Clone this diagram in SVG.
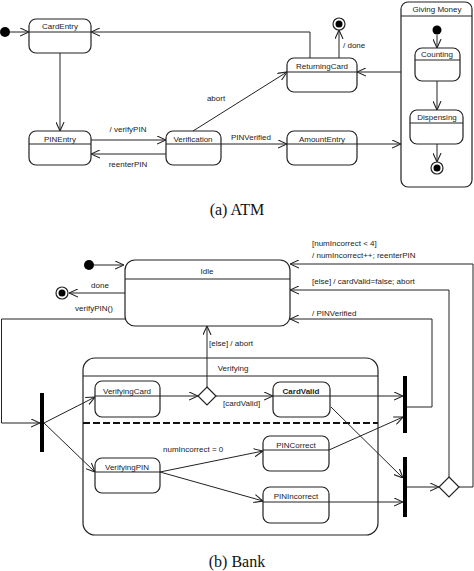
<svg xmlns="http://www.w3.org/2000/svg" width="474" height="571" viewBox="0 0 474 571">
<style>
.box{fill:#fff;stroke:#222;stroke-width:1.2}
.ln{fill:none;stroke:#222;stroke-width:1}
.t{font-family:"Liberation Sans",Arial,sans-serif;font-size:8px;fill:#222}
.c{text-anchor:middle}
.cap{font-family:"Liberation Serif","Times New Roman",serif;font-size:16px;fill:#111;text-anchor:middle}
.bar{fill:#000}
.dot{fill:#000}
.fin{fill:#fff;stroke:#222;stroke-width:1.2}
</style>
<defs>
<marker id="arr" viewBox="0 0 10 10" refX="10" refY="5" markerWidth="9" markerHeight="9" markerUnits="userSpaceOnUse" orient="auto">
<path d="M0,0.5 L10,5 L0,9.5" fill="none" stroke="#222" stroke-width="1.2"/>
</marker>
</defs>
<rect width="474" height="571" fill="#fff"/>

<!-- (a) ATM nodes -->
<g id="a_init"><circle class="dot" cx="5" cy="32" r="5"/></g>
<g id="CardEntry"><rect class="box" x="29" y="19" width="62" height="34" rx="7"/><line class="ln" x1="29" y1="32" x2="91" y2="32"/><text class="t c" x="60" y="29">CardEntry</text></g>
<g id="PINEntry"><rect class="box" x="29" y="131" width="62" height="34" rx="7"/><line class="ln" x1="29" y1="144" x2="91" y2="144"/><text class="t c" x="60" y="142">PINEntry</text></g>
<g id="Verification"><rect class="box" x="166" y="131" width="55" height="34" rx="7"/><text class="t c" x="193" y="142">Verification</text></g>
<g id="ReturningCard"><rect class="box" x="287" y="58" width="70" height="34" rx="7"/><text class="t c" x="322" y="69">ReturningCard</text></g>
<g id="AmountEntry"><rect class="box" x="287" y="131" width="70" height="34" rx="7"/><text class="t c" x="322" y="142">AmountEntry</text></g>
<g id="a_final"><circle class="fin" cx="339" cy="24" r="6"/><circle class="dot" cx="339" cy="24" r="3.5"/></g>
<g id="GivingMoney">
<rect class="box" x="401" y="2" width="71" height="185" rx="7"/>
<line class="ln" x1="401" y1="16" x2="472" y2="16"/>
<text class="t c" x="437" y="12">Giving Money</text>
<circle class="dot" cx="437" cy="30" r="4.5"/>
<g id="Counting"><rect class="box" x="415" y="48" width="45" height="33" rx="7"/><line class="ln" x1="415" y1="60" x2="460" y2="60"/><text class="t c" x="437" y="57">Counting</text></g>
<g id="Dispensing"><rect class="box" x="410" y="110" width="53" height="34" rx="7"/><line class="ln" x1="410" y1="123" x2="463" y2="123"/><text class="t c" x="437" y="120">Dispensing</text></g>
<circle class="fin" cx="437" cy="168" r="6"/><circle class="dot" cx="437" cy="168" r="3.5"/>
</g>

<!-- (a) connectors -->
<g id="a_edges">
<line class="ln" x1="10" y1="32" x2="29" y2="32" marker-end="url(#arr)"/>
<line class="ln" x1="60" y1="53" x2="60" y2="131" marker-end="url(#arr)"/>
<line class="ln" x1="91" y1="140" x2="166" y2="140" marker-end="url(#arr)"/>
<text class="t c" x="128" y="132">/ verifyPIN</text>
<line class="ln" x1="166" y1="154" x2="91" y2="154" marker-end="url(#arr)"/>
<text class="t c" x="128" y="167">reenterPIN</text>
<line class="ln" x1="193" y1="131" x2="287" y2="72" marker-end="url(#arr)"/>
<text class="t c" x="216" y="101">abort</text>
<polyline class="ln" points="310,58 310,32 91,32" marker-end="url(#arr)"/>
<line class="ln" x1="339" y1="58" x2="339" y2="30" marker-end="url(#arr)"/>
<text class="t" x="343" y="48">/ done</text>
<line class="ln" x1="221" y1="144" x2="287" y2="144" marker-end="url(#arr)"/>
<text class="t" x="231" y="140">PINVerified</text>
<line class="ln" x1="287" y1="144" x2="357" y2="144"/>
<line class="ln" x1="357" y1="144" x2="401" y2="144" marker-end="url(#arr)"/>
<line class="ln" x1="401" y1="72" x2="357" y2="72" marker-end="url(#arr)"/>
<line class="ln" x1="287" y1="72" x2="357" y2="72"/>
<line class="ln" x1="437" y1="35" x2="437" y2="48" marker-end="url(#arr)"/>
<line class="ln" x1="437" y1="81" x2="437" y2="110" marker-end="url(#arr)"/>
<line class="ln" x1="437" y1="144" x2="437" y2="162" marker-end="url(#arr)"/>
<line class="ln" x1="166" y1="144" x2="221" y2="144"/>
</g>

<text class="cap" x="237" y="215">(a) ATM</text>

<!-- (b) Bank nodes -->
<g id="b_init"><circle class="dot" cx="89" cy="265" r="5"/></g>
<g id="b_final"><circle class="fin" cx="62" cy="293" r="6"/><circle class="dot" cx="62" cy="293" r="3.5"/></g>
<g id="Idle"><rect class="box" x="125" y="260" width="165" height="66" rx="10"/><line class="ln" x1="125" y1="279" x2="290" y2="279"/><text class="t c" x="207" y="274">Idle</text></g>
<g id="Verifying">
<rect class="box" x="83" y="358" width="295" height="177" rx="12"/>
<line class="ln" x1="83" y1="376" x2="378" y2="376"/>
<text class="t c" x="233" y="371">Verifying</text>
<line x1="83" y1="423" x2="378" y2="423" stroke="#111" stroke-width="2" stroke-dasharray="7,3"/>
<g id="VerifyingCard"><rect class="box" x="95" y="381" width="65" height="36" rx="7"/><text class="t c" x="127" y="394">VerifyingCard</text></g>
<g id="CardValid"><rect class="box" x="273" y="382" width="57" height="35" rx="7"/><text class="t c" x="301" y="394" font-weight="bold">CardValid</text></g>
<g id="VerifyingPIN"><rect class="box" x="95" y="458" width="65" height="35" rx="7"/><text class="t c" x="127" y="470">VerifyingPIN</text></g>
<g id="PINCorrect"><rect class="box" x="263" y="436" width="66" height="35" rx="7"/><text class="t c" x="296" y="448">PINCorrect</text></g>
<g id="PINIncorrect"><rect class="box" x="263" y="487" width="66" height="36" rx="7"/><text class="t c" x="296" y="499">PINIncorrect</text></g>
<g id="choice1"><polygon class="box" points="207,387 216,396 207,405 198,396"/></g>
</g>
<g id="fork1"><rect class="bar" x="40" y="393" width="4" height="59"/></g>
<g id="join2"><rect class="bar" x="403" y="376" width="4" height="57"/></g>
<g id="join3"><rect class="bar" x="403" y="457" width="4" height="60"/></g>
<g id="choice2"><polygon class="box" points="449,477 459,487 449,497 439,487"/></g>

<!-- (b) connectors -->
<g id="b_edges">
<line class="ln" x1="94" y1="265" x2="124" y2="265" marker-end="url(#arr)"/>
<line class="ln" x1="125" y1="293" x2="69" y2="293" marker-end="url(#arr)"/>
<text class="t c" x="100" y="288">done</text>
<polyline class="ln" points="125,319 1.5,319 1.5,423 40,423" marker-end="url(#arr)"/>
<text class="t c" x="94" y="311">verifyPIN()</text>
<line class="ln" x1="44" y1="423" x2="95" y2="397" marker-end="url(#arr)"/>
<line class="ln" x1="44" y1="423" x2="95" y2="472" marker-end="url(#arr)"/>
<line class="ln" x1="95" y1="396" x2="198" y2="396" marker-end="url(#arr)"/>
<line class="ln" x1="207" y1="387" x2="207" y2="326" marker-end="url(#arr)"/>
<text class="t" x="209" y="346">[else] / abort</text>
<line class="ln" x1="216" y1="396" x2="273" y2="396" marker-end="url(#arr)"/>
<text class="t" x="223" y="406">[cardValid]</text>
<line class="ln" x1="273" y1="396" x2="403" y2="396" marker-end="url(#arr)"/>
<polyline class="ln" points="407,407 432,407 432,319 290,319" marker-end="url(#arr)"/>
<text class="t" x="312" y="316">/ PINVerified</text>
<line class="ln" x1="95" y1="472" x2="160" y2="472"/>
<line class="ln" x1="160" y1="472" x2="263" y2="451" marker-end="url(#arr)"/>
<text class="t" x="163" y="452">numIncorrect = 0</text>
<line class="ln" x1="160" y1="472" x2="263" y2="501" marker-end="url(#arr)"/>
<line class="ln" x1="263" y1="450" x2="329" y2="450"/>
<line class="ln" x1="329" y1="450" x2="403" y2="417" marker-end="url(#arr)"/>
<line class="ln" x1="331" y1="407" x2="403" y2="478" marker-end="url(#arr)"/>
<line class="ln" x1="263" y1="502" x2="403" y2="502" marker-end="url(#arr)"/>
<line class="ln" x1="407" y1="487" x2="439" y2="487" marker-end="url(#arr)"/>
<polyline class="ln" points="449,477 449,290 290,290" marker-end="url(#arr)"/>
<text class="t" x="312" y="284">[else] / cardValid=false; abort</text>
<polyline class="ln" points="459,487 473,487 473,264 290,264" marker-end="url(#arr)"/>
<text class="t" x="312" y="246">[numIncorrect &lt; 4]</text>
<text class="t" x="312" y="258">/ numIncorrect++; reenterPIN</text>
</g>

<text class="cap" x="237" y="567">(b) Bank</text>
</svg>
